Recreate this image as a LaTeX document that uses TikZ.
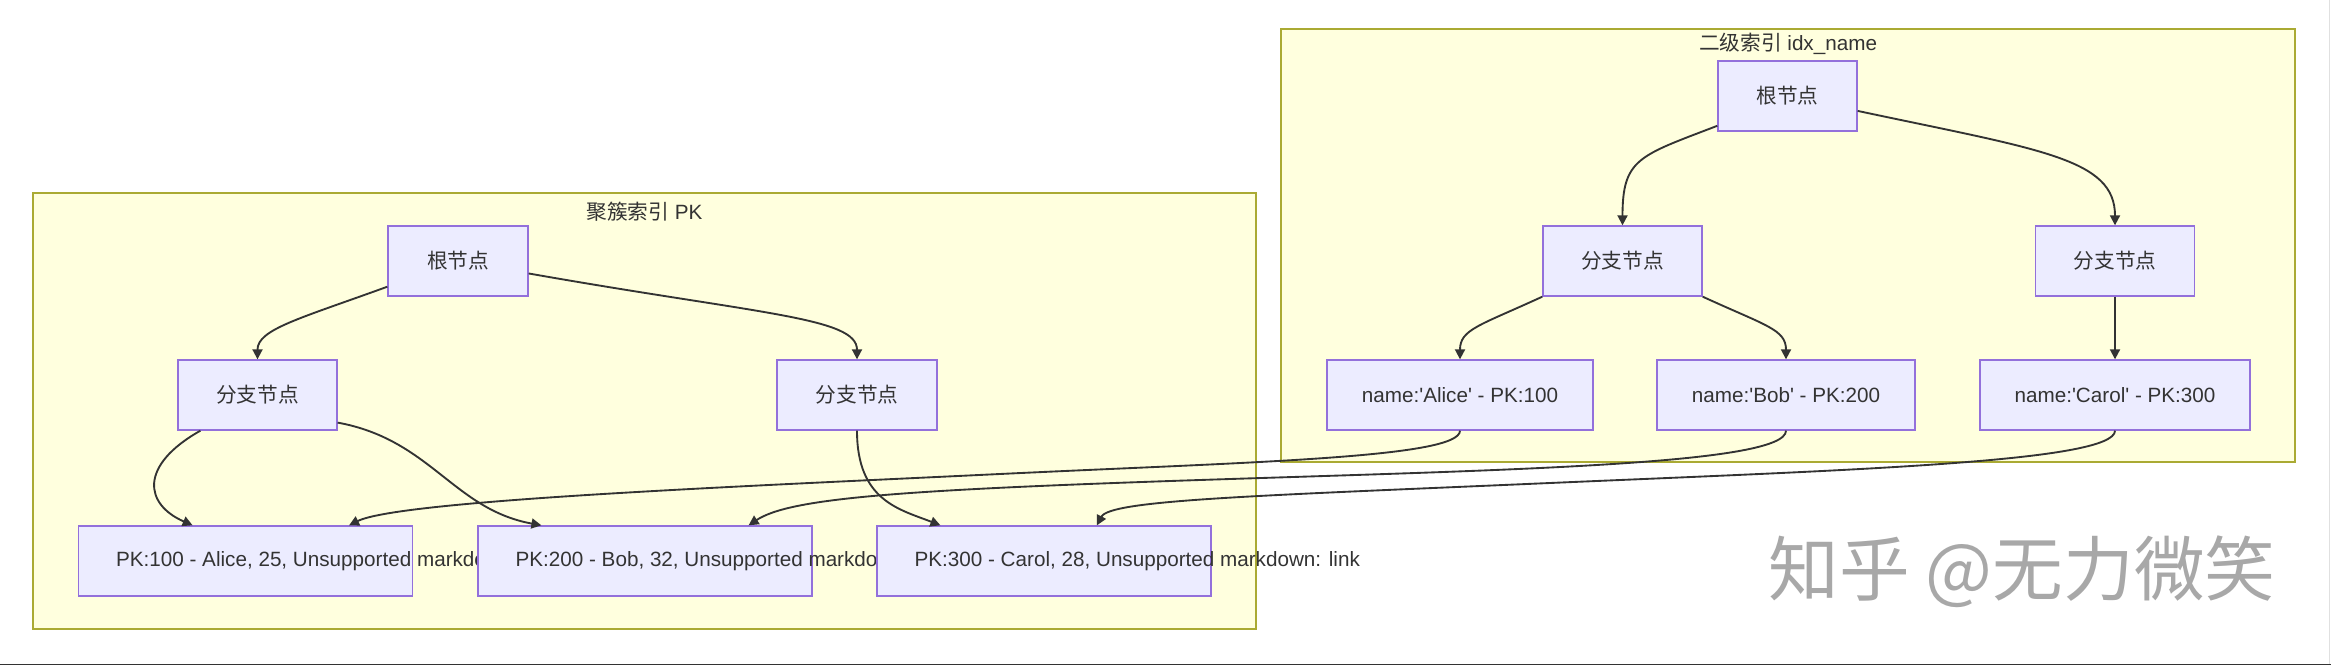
\documentclass[tikz,border=0pt]{standalone}
\usepackage{fontspec}
\setmainfont{Liberation Sans}
\newfontfamily\cjk{Noto Sans CJK SC}
\usetikzlibrary{arrows.meta,calc}
\definecolor{grpfill}{HTML}{FFFFDE}
\definecolor{grpline}{HTML}{AAAA33}
\definecolor{boxfill}{HTML}{ECECFF}
\definecolor{boxline}{HTML}{9370DB}
\definecolor{ink}{HTML}{333333}
\definecolor{wmgray}{HTML}{A8A8A8}
\newcommand\sq{\textquotesingle}
\tikzset{
  grp/.style={draw=grpline, fill=grpfill, line width=1pt},
  txt/.style={text=ink, font=\fontsize{15.5pt}{18pt}\selectfont, inner sep=0pt},
  box/.style={draw=boxline, fill=boxfill, line width=1pt, inner sep=0pt, minimum height=52.5pt, txt},
  link/.style={-{Triangle[length=7.5pt,width=7.5pt]}, draw=ink, line width=1.4pt},
  wmtext/.style={text=wmgray, font=\fontsize{53pt}{58pt}\selectfont\cjk, inner sep=0pt}
}

\begin{document}
\begin{tikzpicture}[x=0.75pt,y=-0.75pt]
  \useasboundingbox (0,0) rectangle (2331,666);
  \draw[grp] (33,193) rectangle (1256,629);
  \draw[grp] (1281,29) rectangle (2295,462);
  \node[txt] (pktitle) at (644.5,212) {{\cjk 聚簇索引} PK};
  \node[txt] (idxtitle) at (1788,44) {{\cjk 二级索引} idx\_name};

  \node[box, minimum width=105pt] (rootL) at (458,261) {\cjk 根节点};
  \node[box, minimum width=119.25pt] (brLL) at (257.5,395) {\cjk 分支节点};
  \node[box, minimum width=120pt] (brLR) at (857,395) {\cjk 分支节点};
  \node[box, minimum width=250.5pt] (leafA) at (245.5,561) {};
  \node[txt, anchor=west] (leafAtxt) at ([xshift=28.5pt]leafA.west) {PK:100 - Alice, 25, Unsupported markdown: link};
  \node[box, minimum width=250.5pt] (leafB) at (645,561) {};
  \node[txt, anchor=west] (leafBtxt) at ([xshift=28.5pt]leafB.west) {PK:200 - Bob, 32, Unsupported markdown: link};
  \node[box, minimum width=250.5pt] (leafC) at (1044,561) {};
  \node[txt, anchor=west] (leafCtxt) at ([xshift=28.5pt]leafC.west) {PK:300 - Carol, 28, Unsupported markdown: link};

  \node[box, minimum width=104.25pt] (rootR) at (1787.5,96) {\cjk 根节点};
  \node[box, minimum width=119.25pt] (brRL) at (1622.5,261) {\cjk 分支节点};
  \node[box, minimum width=119.25pt] (brRR) at (2115,261) {\cjk 分支节点};
  \node[box, minimum width=199.5pt] (nameA) at (1460,395) {name:\sq Alice\sq{} - PK:100};
  \node[box, minimum width=193.5pt] (nameB) at (1786,395) {name:\sq Bob\sq{} - PK:200};
  \node[box, minimum width=202.5pt] (nameC) at (2115,395) {name:\sq Carol\sq{} - PK:300};

  \draw[link] (rootL.200) .. controls +(-88,32) and +(0,-30) .. (brLL.north);
  \draw[link] (rootL.-10) .. controls +(232,41) and +(0,-42) .. (brLR.north);
  \draw[link] (brLL.212) .. controls +(-62,35) and +(-48,-21) .. (leafA.146);
  \draw[link] (brLL.-19) .. controls +(93,17) and +(-88,-16) .. (leafB.161);
  \draw[link] (brLR.south) .. controls +(0,70) and +(-41,-16) .. (leafC.161);

  \draw[link] (rootR.203) .. controls +(-78,30) and +(0,-67) .. (brRL.north);
  \draw[link] (rootR.-12) .. controls +(183,39) and +(0,-67) .. (brRR.north);
  \draw[link] (brRL.south west) .. controls +(-63,29) and +(0,-30) .. (nameA.north);
  \draw[link] (brRL.south east) .. controls +(63,29) and +(0,-30) .. (nameB.north);
  \draw[link] (brRR) -- (nameC);

  \draw[link] (nameA.south) .. controls (1460,458) and (1250,462) .. (1000,474)
    .. controls (750,486) and (400,500) .. (leafA.19);
  \draw[link] (nameB.south) .. controls (1786,465) and (1500,470) .. (1200,480)
    .. controls (900,490) and (790,498) .. (leafB.19);
  \draw[link] (nameC.south) .. controls (2115,462) and (1850,470) .. (1550,483)
    .. controls (1250,496) and (1110,500) .. (leafC.34);

  \node[wmtext] (wmark) at (2022,572) {知乎 @无力微笑};
  \draw[ink, line width=1.2pt] (0,664.5) -- (2331,664.5);
  \draw[black!12, line width=0.75pt] (2329.5,0) -- (2329.5,664);
\end{tikzpicture}
\end{document}
